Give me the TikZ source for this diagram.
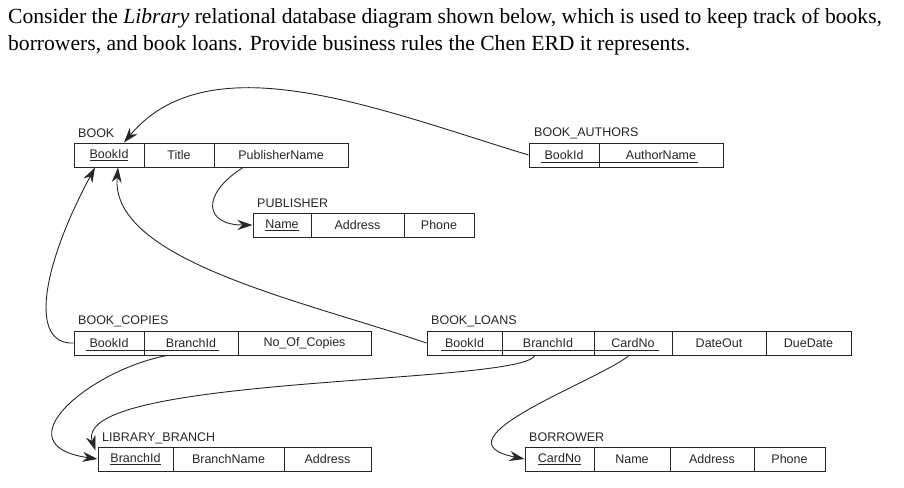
\documentclass[tikz,border=0pt]{standalone}
\usepackage{fontspec}
\setmainfont{Liberation Serif}
\newfontfamily\cellfont{Liberation Sans}
\usetikzlibrary{arrows.meta,calc}
\tikzset{
  cell/.style={draw=black!85,line width=1pt,minimum height=24pt,inner sep=0pt,font=\cellfont\fontsize{12.5}{14}\selectfont,text=black!85},
  lbl/.style={anchor=base west,inner sep=0pt,font=\cellfont\fontsize{12.5}{14}\selectfont,text=black!85},
  con/.style={line width=0.9pt,draw=black!85,-{Stealth[length=15pt,width=10pt,fill=black!85]}},
  uline/.style={line width=0.7pt,draw=black!85}
}
\begin{document}
\begin{tikzpicture}[x=1pt,y=-1pt]
\useasboundingbox (0,0) rectangle (904,487);
\node[anchor=base west,inner sep=0pt,font=\fontsize{21.6}{24}\selectfont] (t1) at (8,24) {Consider the \textit{Library} relational database diagram shown below, which is used to keep track of books,};
\node[anchor=base west,inner sep=0pt,font=\fontsize{21.6}{24}\selectfont] (t2) at (8,51) {borrowers, and book loans. Provide business rules the Chen ERD it represents.};
% BOOK
\node[lbl] (lb) at (78,137) {BOOK};
\node[cell,minimum width=70] (b1) at (109,155) {\underline{BookId}};
\node[cell,minimum width=70] (b2) at (179,155) {Title};
\node[cell,minimum width=134] (b3) at (281,155) {PublisherName};
% BOOK_AUTHORS
\node[lbl] (lba) at (534,136) {BOOK\_AUTHORS};
\node[cell,minimum width=70] (a1) at (564,155) {BookId};
\node[cell,minimum width=124] (a2) at (661,155) {AuthorName};
\draw[uline] ($(a1.south west)+(12,-5)$) -- ($(a2.south east)+(-26,-5)$);
% PUBLISHER
\node[lbl] (lp) at (257,207) {PUBLISHER};
\node[cell,minimum width=58] (p1) at (282,225) {\underline{Name}};
\node[cell,minimum width=93] (p2) at (357.5,225) {Address};
\node[cell,minimum width=70] (p3) at (439,225) {Phone};
% BOOK_COPIES
\node[lbl] (lc) at (78,324) {BOOK\_COPIES};
\node[cell,minimum width=70] (c1) at (109,343) {BookId};
\node[cell,minimum width=94] (c2) at (191,343) {BranchId};
\node[cell,minimum width=133] (c3) at (304.5,343) {No\_Of\_Copies};
\draw[uline] ($(c1.south west)+(12,-5)$) -- ($(c2.south east)+(-20,-5)$);
% BOOK_LOANS
\node[lbl] (ll) at (431,324) {BOOK\_LOANS};
\node[cell,minimum width=75] (l1) at (464.5,343) {BookId};
\node[cell,minimum width=92] (l2) at (548,343) {BranchId};
\node[cell,minimum width=78] (l3) at (633,343) {CardNo};
\node[cell,minimum width=94] (l4) at (719,343) {DateOut};
\node[cell,minimum width=85] (l5) at (808.5,343) {DueDate};
\draw[uline] ($(l1.south west)+(14,-5)$) -- ($(l3.south east)+(-14,-5)$);
% LIBRARY_BRANCH
\node[lbl] (lr) at (102,441) {LIBRARY\_BRANCH};
\node[cell,minimum width=75] (r1) at (135.5,459) {\underline{BranchId}};
\node[cell,minimum width=111] (r2) at (228.5,459) {BranchName};
\node[cell,minimum width=87] (r3) at (327.5,459) {Address};
% BORROWER
\node[lbl] (lw) at (529,441) {BORROWER};
\node[cell,minimum width=69] (w1) at (559.5,459) {\underline{CardNo}};
\node[cell,minimum width=76] (w2) at (632,459) {Name};
\node[cell,minimum width=84] (w3) at (712,459) {Address};
\node[cell,minimum width=71] (w4) at (789.5,459) {Phone};
% connectors
\draw[con] (a1.west) .. controls (380,110) and (210,40) .. ($(b1.north)+(15,0)$);
\draw[con] ($(b3.south)+(-38,0)$) .. controls (200,195) and (205,225) .. (p1.west);
\draw[con] (c1.west) .. controls (30,345) and (40,270) .. ($(b1.south)+(-14,0)$);
\draw[con] (l1.west) .. controls (300,300) and (110,260) .. ($(b1.south)+(9,0)$);
\draw[con] ($(c2.south)+(-24,0)$) .. controls (90,370) and (0,445) .. (r1.west);
\draw[con] ($(l2.south)+(-13,0)$) .. controls (520,385) and (70,375) .. ($(r1.north west)+(-2,4)$);
\draw[con] ($(l3.south)+(-4,0)$) .. controls (600,380) and (430,440) .. (w1.west);
\end{tikzpicture}
\end{document}
